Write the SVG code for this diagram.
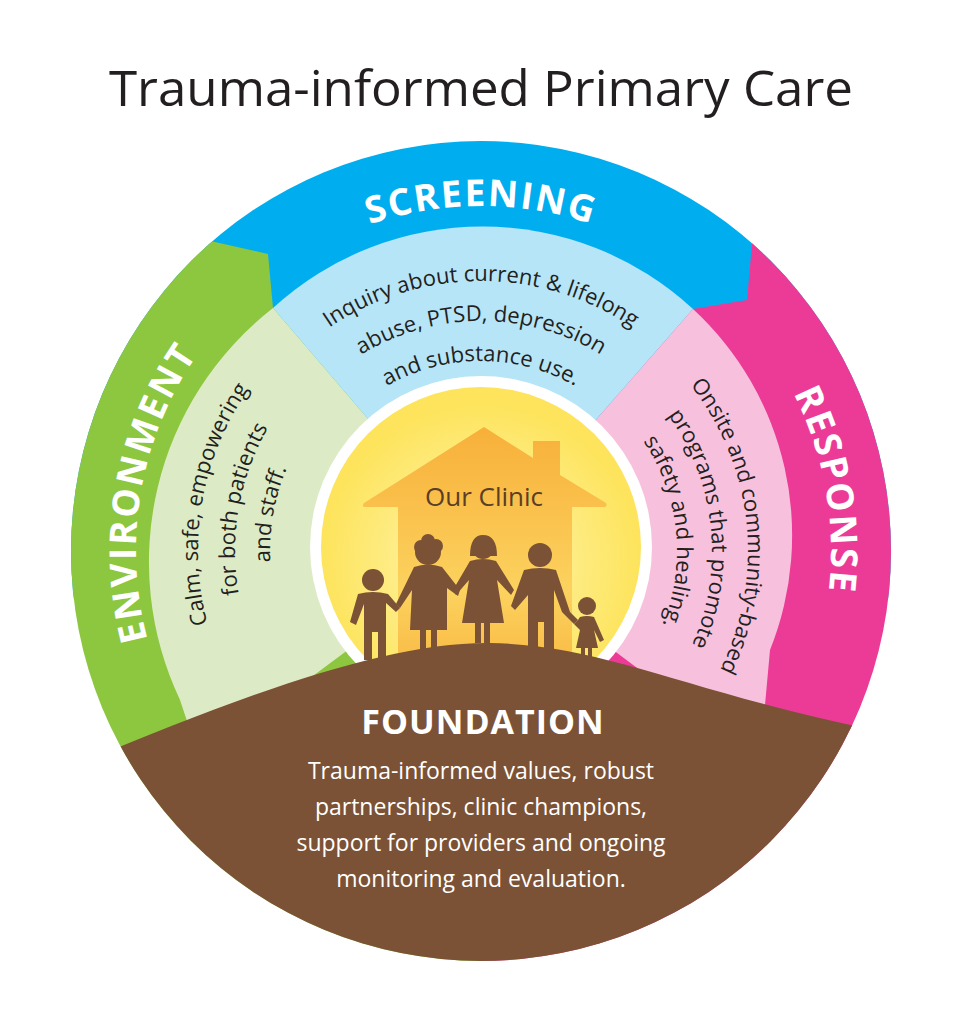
<svg xmlns="http://www.w3.org/2000/svg" width="962" height="1026" viewBox="0 0 962 1026">
<style>
.t{font-family:"Open Sans","Noto Sans",sans-serif}
.lbl{font-family:"Open Sans","Noto Sans",sans-serif;font-weight:bold;fill:#fff;font-size:37px;letter-spacing:2px}
.in{font-family:"Open Sans","Noto Sans",sans-serif;fill:#231f20;font-size:22px}
.fd{font-family:"Open Sans","Noto Sans",sans-serif;fill:#fff;font-size:23px}
.fam{fill:#7b5235}
</style>
<defs>
<clipPath id="cc"><circle cx="481" cy="551" r="410"/></clipPath>
<radialGradient id="sun" cx="0.5" cy="0.55" r="0.5"><stop offset="0" stop-color="#fff6b8"/><stop offset="1" stop-color="#fde45c"/></radialGradient>
<linearGradient id="house" x1="0" y1="0" x2="0" y2="1"><stop offset="0" stop-color="#f7b03a"/><stop offset="0.6" stop-color="#fcd25e"/><stop offset="1" stop-color="#f7b03a"/></linearGradient>
<path id="pScr" d="M 136 551 A 345 345 0 0 1 826 551"/>
<path id="pEnv" d="M 182.2 723.5 A 345 345 0 0 1 259.2 286.7"/>
<path id="pRes" d="M 706 282.9 A 350 350 0 0 1 784.1 726"/>
<path id="s1" d="M 211 551 A 270 270 0 0 1 751 551"/>
<path id="s2" d="M 251 551 A 230 230 0 0 1 711 551"/>
<path id="s3" d="M 291 551 A 190 190 0 0 1 671 551"/>
<path id="e1" d="M 235.9 692.5 A 283 283 0 0 1 299 334.2"/>
<path id="e2" d="M 268 674 A 246 246 0 0 1 322.8 362.6"/>
<path id="e3" d="M 298.3 656.5 A 211 211 0 0 1 345.3 389.4"/>
<path id="r1" d="M 652.7 346.5 A 267 267 0 0 1 712.2 684.5"/>
<path id="r2" d="M 629.5 374 A 231 231 0 0 1 681 666.5"/>
<path id="r3" d="M 607 400.9 A 196 196 0 0 1 650.7 649"/>
</defs>
<rect width="962" height="1026" fill="#fff"/>
<text class="t" x="481" y="106" text-anchor="middle" font-size="50" fill="#231f20" textLength="744" lengthAdjust="spacingAndGlyphs">Trauma-informed Primary Care</text>

<g id="ring" clip-path="url(#cc)">
  <rect id="blue" x="0" y="0" width="962" height="600" fill="#00aeef"/>
  <path id="green" d="M 481 551 L 273 308 L 268 254 L 215 242 L 100 215 L 0 215 L 0 1026 L 481 1026 Z" fill="#8dc63f"/>
  <path id="pink" d="M 481 551 L 693 309 L 747 300 L 752 244 L 770 150 L 962 150 L 962 1026 L 481 1026 Z" fill="#ec3b97"/>
  <path d="M 481 551 L 273 308 A 310 310 0 0 1 693 309 Z" fill="#b7e5f8"/>
  <path d="M 481 551 L 273 308 A 322 322 0 0 0 180 700 L 200 760 Z" fill="#dcebc5"/>
  <path d="M 481 551 L 693 309 A 308 308 0 0 1 770 650 L 760 760 Z" fill="#f7c1dd"/>
</g>
<circle cx="481" cy="547" r="171" fill="#fff"/>
<circle cx="481" cy="547" r="160" fill="url(#sun)"/>

<g id="clinic">
  <path d="M 533 441 L 560 441 L 560 475 L 606 503 Q 608 507 603 507 L 572 507 L 572 700 L 398 700 L 398 507 L 366 507 Q 361 507 364 503 L 484 427 L 533 458 Z" fill="url(#house)"/>
  <text class="t" x="484" y="506" text-anchor="middle" font-size="26" fill="#5a3e26">Our Clinic</text>
  <g class="fam">
    <circle cx="373" cy="580" r="11"/>
    <path d="M 358 594 Q 373 590 388 594 L 400 608 L 396 612 L 386 603 L 386 660 L 378 660 L 378 632 L 372 632 L 372 660 L 364 660 L 364 604 L 356 625 L 350 622 Z"/>
    <circle cx="428" cy="552" r="13"/><circle cx="421" cy="547" r="7"/><circle cx="436" cy="546" r="7"/><circle cx="428" cy="541" r="7"/>
    <path d="M 414 567 Q 428 562 442 567 L 460 590 L 458 596 L 447 588 L 447 630 L 437 630 L 437 652 L 431 652 L 431 630 L 426 630 L 426 652 L 420 652 L 420 630 L 410 630 L 412 590 L 400 608 L 396 604 Z"/>
    <path d="M 470 556 Q 470 535 483 535 Q 497 535 497 556 L 490 556 L 476 556 Z"/>
    <circle cx="483" cy="548" r="11"/>
    <path d="M 470 561 Q 483 557 496 561 L 514 590 L 511 595 L 497 580 L 504 623 L 490 623 L 490 643 L 484 643 L 484 623 L 481 623 L 481 643 L 475 643 L 475 623 L 462 623 L 469 580 L 456 595 L 453 590 Z"/>
    <circle cx="540" cy="555" r="12"/>
    <path d="M 524 570 Q 540 566 556 570 L 570 612 L 578 620 L 574 624 L 562 612 L 554 590 L 554 655 L 544 655 L 544 622 L 538 622 L 538 655 L 528 655 L 528 595 L 515 610 L 511 606 Z"/>
    <circle cx="587" cy="606" r="9"/>
    <path d="M 580 617 Q 587 615 594 617 L 604 640 L 600 642 L 594 630 L 598 648 L 592 648 L 592 665 L 588 665 L 588 648 L 585 648 L 585 665 L 581 665 L 581 648 L 576 648 L 580 630 L 574 624 L 578 620 Z"/>
  </g>
</g>

<g id="foundation" clip-path="url(#cc)">
  <path d="M 40 780 C 230 700 380 642 490 643 C 610 645 690 695 900 735 L 900 1000 L 40 1000 Z" fill="#7b5235"/>
</g>

<g id="labels">
  <text class="lbl"><textPath href="#pScr" startOffset="50%" text-anchor="middle">SCREENING</textPath></text>
  <text class="lbl"><textPath href="#pEnv" startOffset="50%" text-anchor="middle">ENVIRONMENT</textPath></text>
  <text class="lbl"><textPath href="#pRes" startOffset="50%" text-anchor="middle">RESPONSE</textPath></text>
  <text class="in"><textPath href="#s1" startOffset="50%" text-anchor="middle">Inquiry about current &amp; lifelong</textPath></text>
  <text class="in"><textPath href="#s2" startOffset="50%" text-anchor="middle">abuse, PTSD, depression</textPath></text>
  <text class="in"><textPath href="#s3" startOffset="50%" text-anchor="middle">and substance use.</textPath></text>
  <text class="in"><textPath href="#e1" startOffset="50%" text-anchor="middle">Calm, safe, empowering</textPath></text>
  <text class="in"><textPath href="#e2" startOffset="50%" text-anchor="middle">for both patients</textPath></text>
  <text class="in"><textPath href="#e3" startOffset="50%" text-anchor="middle">and staff.</textPath></text>
  <text class="in"><textPath href="#r1" startOffset="55%" text-anchor="middle">Onsite and community-based</textPath></text>
  <text class="in"><textPath href="#r2" startOffset="55%" text-anchor="middle">programs that promote</textPath></text>
  <text class="in"><textPath href="#r3" startOffset="55%" text-anchor="middle">safety and healing.</textPath></text>
  <text class="t" x="483" y="734" text-anchor="middle" font-size="34" font-weight="bold" fill="#fff" letter-spacing="1">FOUNDATION</text>
  <text class="fd" text-anchor="middle"><tspan x="481" y="779">Trauma-informed values, robust</tspan><tspan x="481" y="815">partnerships, clinic champions,</tspan><tspan x="481" y="851">support for providers and ongoing</tspan><tspan x="481" y="887">monitoring and evaluation.</tspan></text>
</g>
</svg>
